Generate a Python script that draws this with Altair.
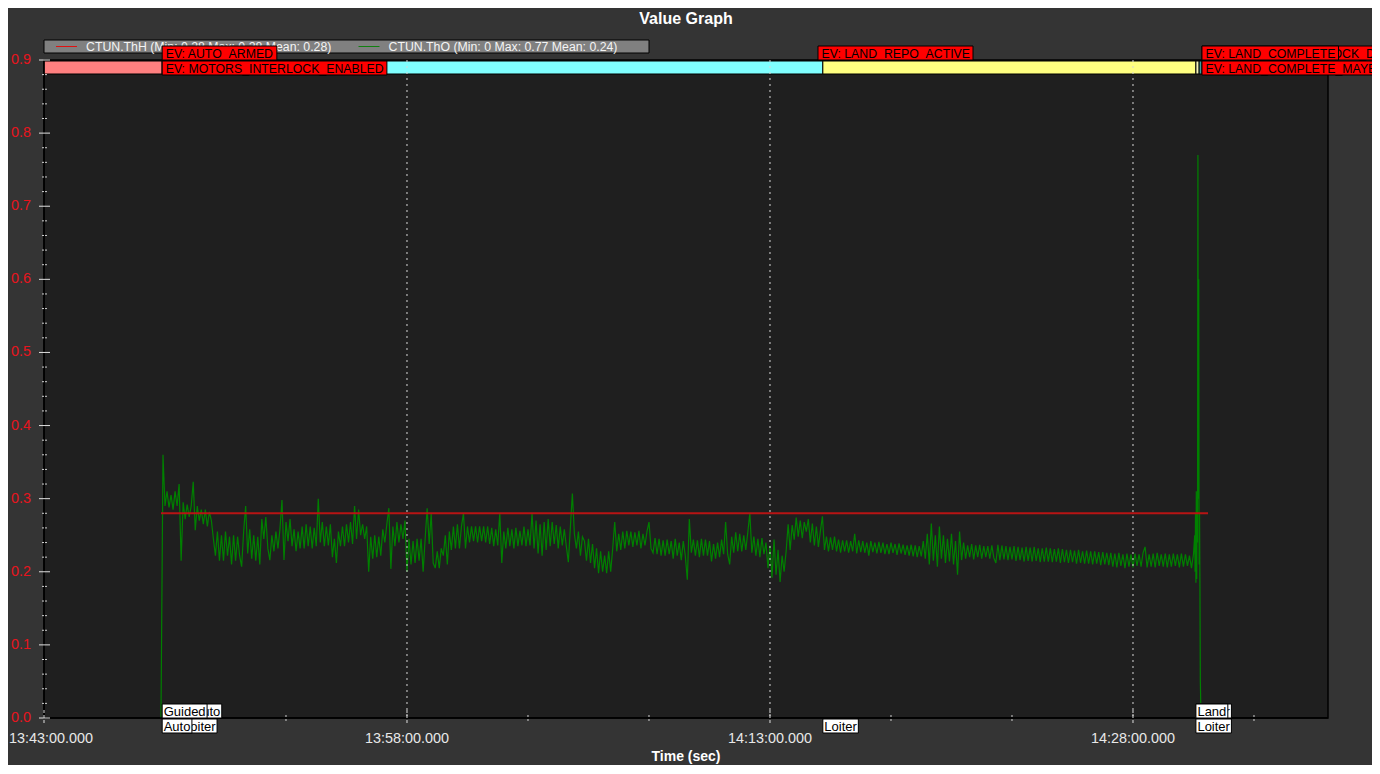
import altair as alt
import pandas as pd

# ------------------------------------------------------------------ data
TITLE = "Value Graph"
X_TITLE = "Time (sec)"
X_DOMAIN = ["13:43:00", "14:36:03.5"]
X_MAJOR = ["13:43:00", "13:58:00", "14:13:00", "14:28:00"]
X_TICK_LABELS = ["13:43:00.000", "13:58:00.000", "14:13:00.000", "14:28:00.000"]
X_MINOR = ["13:48:00", "13:53:00", "14:03:00", "14:08:00", "14:18:00", "14:23:00", "14:33:00"]
Y_MAJOR = [0.0, 0.1, 0.2, 0.3, 0.4, 0.5, 0.6, 0.7, 0.8, 0.9]
Y_MINOR = [0.02, 0.04, 0.06, 0.08, 0.12, 0.14, 0.16, 0.18, 0.22, 0.24, 0.26, 0.28,
           0.32, 0.34, 0.36, 0.38, 0.42, 0.44, 0.46, 0.48, 0.52, 0.54, 0.56, 0.58,
           0.62, 0.64, 0.66, 0.68, 0.72, 0.74, 0.76, 0.78, 0.82, 0.84, 0.86, 0.88]

LEGEND_NAMES = ["CTUN.ThH", "CTUN.ThO"]
LEGEND_STATS = ["(Min: 0.28 Max: 0.28 Mean: 0.28)", "(Min: 0 Max: 0.77 Mean: 0.24)"]

# CTUN.ThH (hover throttle) - constant
THH_T = ["13:47:50", "14:31:06"]
THH = [0.28, 0.28]

# CTUN.ThO (throttle out) - logged every 5 s
THO_START = "13:47:50"
THO_STEP_S = 5
THO = [
    0.0, 0.36, 0.29, 0.31, 0.288, 0.305, 0.285, 0.31, 0.29, 0.32,
    0.215, 0.295, 0.272, 0.292, 0.275, 0.29, 0.323, 0.257, 0.29, 0.27,
    0.285, 0.265, 0.285, 0.262, 0.282, 0.27, 0.245, 0.222, 0.255, 0.215,
    0.25, 0.215, 0.255, 0.222, 0.248, 0.21, 0.25, 0.215, 0.248, 0.222,
    0.207, 0.255, 0.29, 0.225, 0.258, 0.218, 0.25, 0.215, 0.248, 0.21,
    0.272, 0.245, 0.275, 0.232, 0.216, 0.25, 0.228, 0.255, 0.232, 0.258,
    0.298, 0.216, 0.268, 0.242, 0.272, 0.235, 0.258, 0.228, 0.255, 0.232,
    0.262, 0.232, 0.265, 0.235, 0.262, 0.232, 0.26, 0.235, 0.30, 0.24,
    0.268, 0.235, 0.262, 0.236, 0.265, 0.22, 0.245, 0.212, 0.255, 0.235,
    0.262, 0.235, 0.265, 0.24, 0.268, 0.238, 0.29, 0.245, 0.285, 0.25,
    0.265, 0.245, 0.262, 0.20, 0.248, 0.218, 0.25, 0.22, 0.248, 0.222,
    0.258, 0.24, 0.265, 0.287, 0.204, 0.262, 0.235, 0.268, 0.24, 0.265,
    0.245, 0.27, 0.20, 0.245, 0.21, 0.242, 0.212, 0.245, 0.215, 0.245,
    0.20, 0.245, 0.287, 0.238, 0.28, 0.212, 0.205, 0.228, 0.205, 0.232,
    0.222, 0.25, 0.21, 0.255, 0.23, 0.262, 0.232, 0.265, 0.232, 0.262,
    0.28, 0.232, 0.262, 0.24, 0.262, 0.242, 0.262, 0.24, 0.262, 0.242,
    0.262, 0.24, 0.262, 0.238, 0.26, 0.235, 0.258, 0.236, 0.28, 0.212,
    0.255, 0.232, 0.26, 0.235, 0.258, 0.232, 0.26, 0.235, 0.256, 0.236,
    0.262, 0.235, 0.258, 0.236, 0.28, 0.232, 0.27, 0.225, 0.265, 0.222,
    0.268, 0.23, 0.272, 0.235, 0.268, 0.238, 0.264, 0.232, 0.262, 0.236,
    0.258, 0.235, 0.213, 0.26, 0.307, 0.252, 0.232, 0.255, 0.222, 0.248,
    0.242, 0.215, 0.245, 0.212, 0.238, 0.205, 0.232, 0.198, 0.228, 0.20,
    0.222, 0.198, 0.228, 0.20, 0.232, 0.268, 0.228, 0.252, 0.23, 0.255,
    0.232, 0.256, 0.236, 0.255, 0.234, 0.254, 0.236, 0.256, 0.232, 0.252,
    0.236, 0.255, 0.268, 0.232, 0.226, 0.246, 0.224, 0.245, 0.222, 0.243,
    0.222, 0.244, 0.224, 0.242, 0.218, 0.245, 0.222, 0.24, 0.216, 0.242,
    0.222, 0.189, 0.272, 0.226, 0.244, 0.222, 0.243, 0.22, 0.245, 0.222,
    0.244, 0.222, 0.242, 0.214, 0.238, 0.218, 0.24, 0.22, 0.244, 0.224,
    0.268, 0.224, 0.21, 0.248, 0.226, 0.254, 0.228, 0.252, 0.228, 0.25,
    0.23, 0.254, 0.28, 0.226, 0.248, 0.222, 0.245, 0.22, 0.246, 0.224,
    0.24, 0.205, 0.236, 0.192, 0.244, 0.196, 0.23, 0.186, 0.222, 0.20,
    0.228, 0.265, 0.23, 0.264, 0.244, 0.274, 0.248, 0.27, 0.246, 0.268,
    0.255, 0.272, 0.24, 0.266, 0.236, 0.262, 0.234, 0.256, 0.276, 0.23,
    0.248, 0.228, 0.247, 0.23, 0.248, 0.228, 0.244, 0.226, 0.243, 0.228,
    0.243, 0.226, 0.242, 0.228, 0.252, 0.225, 0.243, 0.227, 0.242, 0.226,
    0.24, 0.222, 0.242, 0.227, 0.24, 0.225, 0.241, 0.226, 0.24, 0.224,
    0.238, 0.224, 0.24, 0.226, 0.238, 0.223, 0.239, 0.225, 0.237, 0.223,
    0.236, 0.222, 0.237, 0.221, 0.236, 0.22, 0.235, 0.221, 0.242, 0.218,
    0.252, 0.21, 0.266, 0.215, 0.25, 0.207, 0.262, 0.218, 0.25, 0.212,
    0.245, 0.214, 0.252, 0.21, 0.242, 0.196, 0.255, 0.216, 0.24, 0.218,
    0.236, 0.22, 0.238, 0.217, 0.236, 0.22, 0.237, 0.218, 0.235, 0.22,
    0.235, 0.218, 0.236, 0.219, 0.212, 0.237, 0.216, 0.236, 0.217, 0.235,
    0.216, 0.234, 0.217, 0.235, 0.215, 0.234, 0.216, 0.233, 0.214, 0.234,
    0.215, 0.233, 0.214, 0.234, 0.215, 0.232, 0.213, 0.232, 0.214, 0.233,
    0.214, 0.232, 0.213, 0.231, 0.214, 0.232, 0.212, 0.231, 0.213, 0.23,
    0.212, 0.23, 0.213, 0.229, 0.211, 0.23, 0.212, 0.228, 0.211, 0.229,
    0.211, 0.228, 0.21, 0.228, 0.211, 0.227, 0.209, 0.227, 0.21, 0.226,
    0.209, 0.226, 0.207, 0.225, 0.206, 0.226, 0.208, 0.224, 0.205, 0.225,
    0.207, 0.224, 0.206, 0.225, 0.208, 0.224, 0.207, 0.226, 0.234, 0.206,
    0.224, 0.207, 0.225, 0.206, 0.226, 0.208, 0.224, 0.207, 0.225, 0.206,
    0.224, 0.207, 0.225, 0.208, 0.224, 0.206, 0.225, 0.207, 0.224, 0.208,
    0.222, 0.205, 0.224,
]
# landing burst, logged every 1 s
THO_LAND_START = "14:30:33"
THO_LAND_STEP_S = 1
THO_LAND = [0.25, 0.2, 0.28, 0.185, 0.31, 0.19, 0.3, 0.24, 0.77, 0.3, 0.6, 0.21, 0.28, 0.18, 0.05, 0.02]

# flight mode bands along the top
BAND_START = ["13:43:00", "13:47:53", "14:15:11", "14:30:36", "14:30:44"]
BAND_END = ["13:47:53", "14:15:11", "14:30:36", "14:30:44", "14:30:51"]
BAND_COLORS = ["#ff8080", "#80ffff", "#ffff80", "#f2f2b8", "#3aa0a0"]

# events (red labels); row 0 = upper, row 1 = lower; layer 0 drawn beneath layer 1
EVENT_T = ["13:47:53", "13:47:53", "14:14:59", "14:30:51", "14:30:51", "14:30:51"]
EVENT_TEXT = ["EV: AUTO_ARMED", "EV: MOTORS_INTERLOCK_ENABLED", "EV: LAND_REPO_ACTIVE",
              "EV: MOTORS_INTERLOCK_DISABLED", "EV: LAND_COMPLETE", "EV: LAND_COMPLETE_MAYBE"]
EVENT_ROW = [0, 1, 0, 0, 0, 1]
EVENT_LAYER = [1, 1, 1, 0, 1, 1]

# flight modes (white labels)
MODE_T = ["13:49:07", "13:48:41", "14:30:36", "13:47:53", "13:47:53", "14:15:11", "14:30:36", "14:30:36"]
MODE_TEXT = ["Auto", "Loiter", "Loiter", "Guided", "Auto", "Loiter", "Land", "Loiter"]
MODE_ROW = [0, 1, 0, 0, 1, 1, 0, 1]
MODE_LAYER = [0, 0, 0, 1, 1, 1, 1, 1]

# ------------------------------------------------------------------ helpers
PLOT_W, PLOT_H = 1284, 658
FONT = "Arial"
EV_SIZE, EV_PAD = 12.3, 6
MD_SIZE, MD_PAD = 13, 3

ARIAL_W = {
    "A": 667, "B": 667, "C": 722, "D": 722, "E": 667, "F": 611, "G": 778, "H": 722, "I": 278,
    "J": 500, "K": 667, "L": 556, "M": 833, "N": 722, "O": 778, "P": 667, "Q": 778, "R": 722,
    "S": 667, "T": 611, "U": 722, "V": 667, "W": 944, "X": 667, "Y": 667, "Z": 611, "_": 556,
    ":": 278, " ": 278, "a": 556, "b": 556, "c": 500, "d": 556, "e": 556, "f": 278, "g": 556,
    "h": 556, "i": 222, "j": 222, "k": 500, "l": 222, "m": 833, "n": 556, "o": 556, "p": 556,
    "q": 556, "r": 333, "s": 500, "t": 278, "u": 556, "v": 500, "w": 722, "x": 500, "y": 500,
    "z": 500,
}


def text_w(s, size):
    return sum(ARIAL_W.get(c, 556) for c in s) / 1000.0 * size


def secs(s):
    h, m, x = s.split(":")
    return int(h) * 3600 + int(m) * 60 + float(x)


T0 = secs(X_DOMAIN[0])


def rel(s):
    return secs(s) - T0


SPAN = rel(X_DOMAIN[1])
SEC_PER_PX = SPAN / PLOT_W

xs = alt.Scale(domain=[0, SPAN], nice=False, zero=False)
ys = alt.Scale(domain=[Y_MAJOR[0], Y_MAJOR[-1]], nice=False, zero=False)


def X(field):
    return alt.X(f"{field}:Q", scale=xs, axis=None)


def Y(field):
    return alt.Y(f"{field}:Q", scale=ys, axis=None)


one = pd.DataFrame({"k": [0]})

# ------------------------------------------------------------------ frames
tho_df = pd.DataFrame({
    "t": [rel(THO_START) + i * THO_STEP_S for i in range(len(THO))]
         + [rel(THO_LAND_START) + i * THO_LAND_STEP_S for i in range(len(THO_LAND))],
    "v": THO + THO_LAND,
})
thh_df = pd.DataFrame({"t": [rel(s) for s in THH_T], "v": THH})
band_df = pd.DataFrame({"t": [rel(s) for s in BAND_START], "t2": [rel(s) for s in BAND_END],
                        "c": BAND_COLORS})
ymaj_df = pd.DataFrame({"y": Y_MAJOR})
ymin_df = pd.DataFrame({"y": Y_MINOR})
xmaj_df = pd.DataFrame({"t": [rel(s) for s in X_MAJOR], "lab": X_TICK_LABELS})
xmin_df = pd.DataFrame({"t": [rel(s) for s in X_MINOR]})
grid_df = pd.DataFrame({"t": [rel(s) for s in X_MAJOR[1:]]})

ev_df = pd.DataFrame({"t": [rel(s) for s in EVENT_T], "text": EVENT_TEXT,
                      "row": EVENT_ROW, "z": EVENT_LAYER})
ev_df["t2"] = ev_df["t"] + (ev_df["text"].map(lambda s: text_w(s, EV_SIZE)) + EV_PAD) * SEC_PER_PX

md_df = pd.DataFrame({"t": [rel(s) for s in MODE_T], "text": MODE_TEXT,
                      "row": MODE_ROW, "z": MODE_LAYER})
md_df["t2"] = md_df["t"] + (md_df["text"].map(lambda s: text_w(s, MD_SIZE)) + MD_PAD) * SEC_PER_PX

# ------------------------------------------------------------------ layers
layers = []

layers.append(alt.Chart(tho_df).mark_line(color="#008000", strokeWidth=1.2).encode(
    x=X("t"), y=Y("v")))
layers.append(alt.Chart(thh_df).mark_line(color="#b81414", strokeWidth=2).encode(
    x=X("t"), y=Y("v")))

# mode bands
layers.append(alt.Chart(band_df).mark_rect(stroke="#000000", strokeWidth=1).encode(
    x=X("t"), x2="t2:Q", y=alt.value(1), y2=alt.value(14), fill=alt.Fill("c:N", scale=None)))

# dotted grid lines
layers.append(alt.Chart(grid_df).mark_rule(color="#d8d8d8", strokeWidth=1, strokeDash=[2, 4]).encode(
    x=X("t"), y=alt.value(0), y2=alt.value(PLOT_H)))

# axis lines (left and bottom)
layers.append(alt.Chart(one).mark_rule(color="#000000", strokeWidth=1.5).encode(
    x=alt.value(0), y=alt.value(0), y2=alt.value(PLOT_H)))
layers.append(alt.Chart(one).mark_rule(color="#000000", strokeWidth=1.5).encode(
    x=alt.value(0), x2=alt.value(PLOT_W), y=alt.value(PLOT_H)))

# y ticks and labels
layers.append(alt.Chart(ymaj_df).mark_rule(color="#e0e0e0", strokeWidth=1).encode(
    y=Y("y"), x=alt.value(-5), x2=alt.value(6)))
layers.append(alt.Chart(ymin_df).mark_rule(color="#d0d0d0", strokeWidth=1, strokeDash=[2, 1]).encode(
    y=Y("y"), x=alt.value(-2), x2=alt.value(4)))
layers.append(alt.Chart(ymaj_df).mark_text(
    align="right", baseline="middle", font=FONT, fontSize=14.4, color="#e8141e").encode(
    y=Y("y"), x=alt.value(-13), text=alt.Text("y:Q", format=".1f")))

# x ticks and labels
layers.append(alt.Chart(xmaj_df).mark_rule(color="#e0e0e0", strokeWidth=1, strokeDash=[3, 2]).encode(
    x=X("t"), y=alt.value(PLOT_H - 8), y2=alt.value(PLOT_H + 6)))
layers.append(alt.Chart(xmin_df).mark_rule(color="#d0d0d0", strokeWidth=1, strokeDash=[2, 2]).encode(
    x=X("t"), y=alt.value(PLOT_H - 3), y2=alt.value(PLOT_H + 4)))
# first label kept fully inside the page; the rest centred on their ticks
layers.append(alt.Chart(xmaj_df.iloc[:1]).mark_text(
    align="left", baseline="middle", font=FONT, fontSize=14.4, color="#e8e8e8").encode(
    x=alt.value(-35), y=alt.value(PLOT_H + 20.5), text="lab:N"))
layers.append(alt.Chart(xmaj_df.iloc[1:]).mark_text(
    align="center", baseline="middle", font=FONT, fontSize=14.4, color="#e8e8e8").encode(
    x=X("t"), y=alt.value(PLOT_H + 20.5), text="lab:N"))

# legend box
LEG_Y0, LEG_Y1 = -20, -7
LEG_MID = (LEG_Y0 + LEG_Y1) / 2
LEG_COLORS = ["#e01010", "#108010"]
LEG_TEXT_X = [42, 344.5]
layers.append(alt.Chart(one).mark_rect(fill="#808080", stroke="#000000", strokeWidth=1).encode(
    x=alt.value(0), x2=alt.value(605), y=alt.value(LEG_Y0), y2=alt.value(LEG_Y1)))
for i, name in enumerate(LEGEND_NAMES):
    layers.append(alt.Chart(one).mark_rule(color=LEG_COLORS[i], strokeWidth=1).encode(
        x=alt.value(LEG_TEXT_X[i] - 30), x2=alt.value(LEG_TEXT_X[i] - 9), y=alt.value(LEG_MID)))
    layers.append(alt.Chart(one).mark_text(
        align="left", baseline="middle", font=FONT, fontSize=12.3, color="#f4f4f4").encode(
        x=alt.value(LEG_TEXT_X[i]), y=alt.value(LEG_MID + 0.5),
        text=alt.value(f"{name}  {LEGEND_STATS[i]}")))


def label_layers(df, rows, size, fill, dx):
    out = []
    for z in (0, 1):
        for r, (y0, y1) in enumerate(rows):
            sub = df[(df["z"] == z) & (df["row"] == r)]
            if sub.empty:
                continue
            base = alt.Chart(sub)
            out.append(base.mark_rect(fill=fill, stroke="#000000", strokeWidth=1).encode(
                x=X("t"), x2="t2:Q", y=alt.value(y0), y2=alt.value(y1)))
            out.append(base.mark_text(align="left", baseline="middle", dx=dx, font=FONT,
                                      fontSize=size, color="#000000").encode(
                x=X("t"), y=alt.value((y0 + y1) / 2 + 0.5), text="text:N"))
    return out


layers += label_layers(ev_df, [(-14, 0), (1, 15)], EV_SIZE, "#ff0000", EV_PAD / 2 + 0.5)
layers += label_layers(md_df, [(PLOT_H - 14, PLOT_H), (PLOT_H + 1, PLOT_H + 15)], MD_SIZE, "#ffffff", 1.5)

# titles
layers.append(alt.Chart(one).mark_text(
    align="center", baseline="middle", font=FONT, fontSize=16, fontWeight="bold", color="#ffffff").encode(
    x=alt.value(PLOT_W / 2), y=alt.value(-41), text=alt.value(TITLE)))
layers.append(alt.Chart(one).mark_text(
    align="center", baseline="middle", font=FONT, fontSize=14, fontWeight="bold", color="#ffffff").encode(
    x=alt.value(PLOT_W / 2), y=alt.value(PLOT_H + 39), text=alt.value(X_TITLE)))

chart = alt.layer(*layers).properties(
    width=PLOT_W, height=PLOT_H,
    padding={"left": 36, "top": 52, "right": 44, "bottom": 47},
    autosize=alt.AutoSizeParams(type="none"),
    background="#343434",
).configure_view(fill="#1f1f1f", stroke="#000000", strokeWidth=1.5)

chart.save("out.html", embed_options={"renderer": "svg", "actions": False})
